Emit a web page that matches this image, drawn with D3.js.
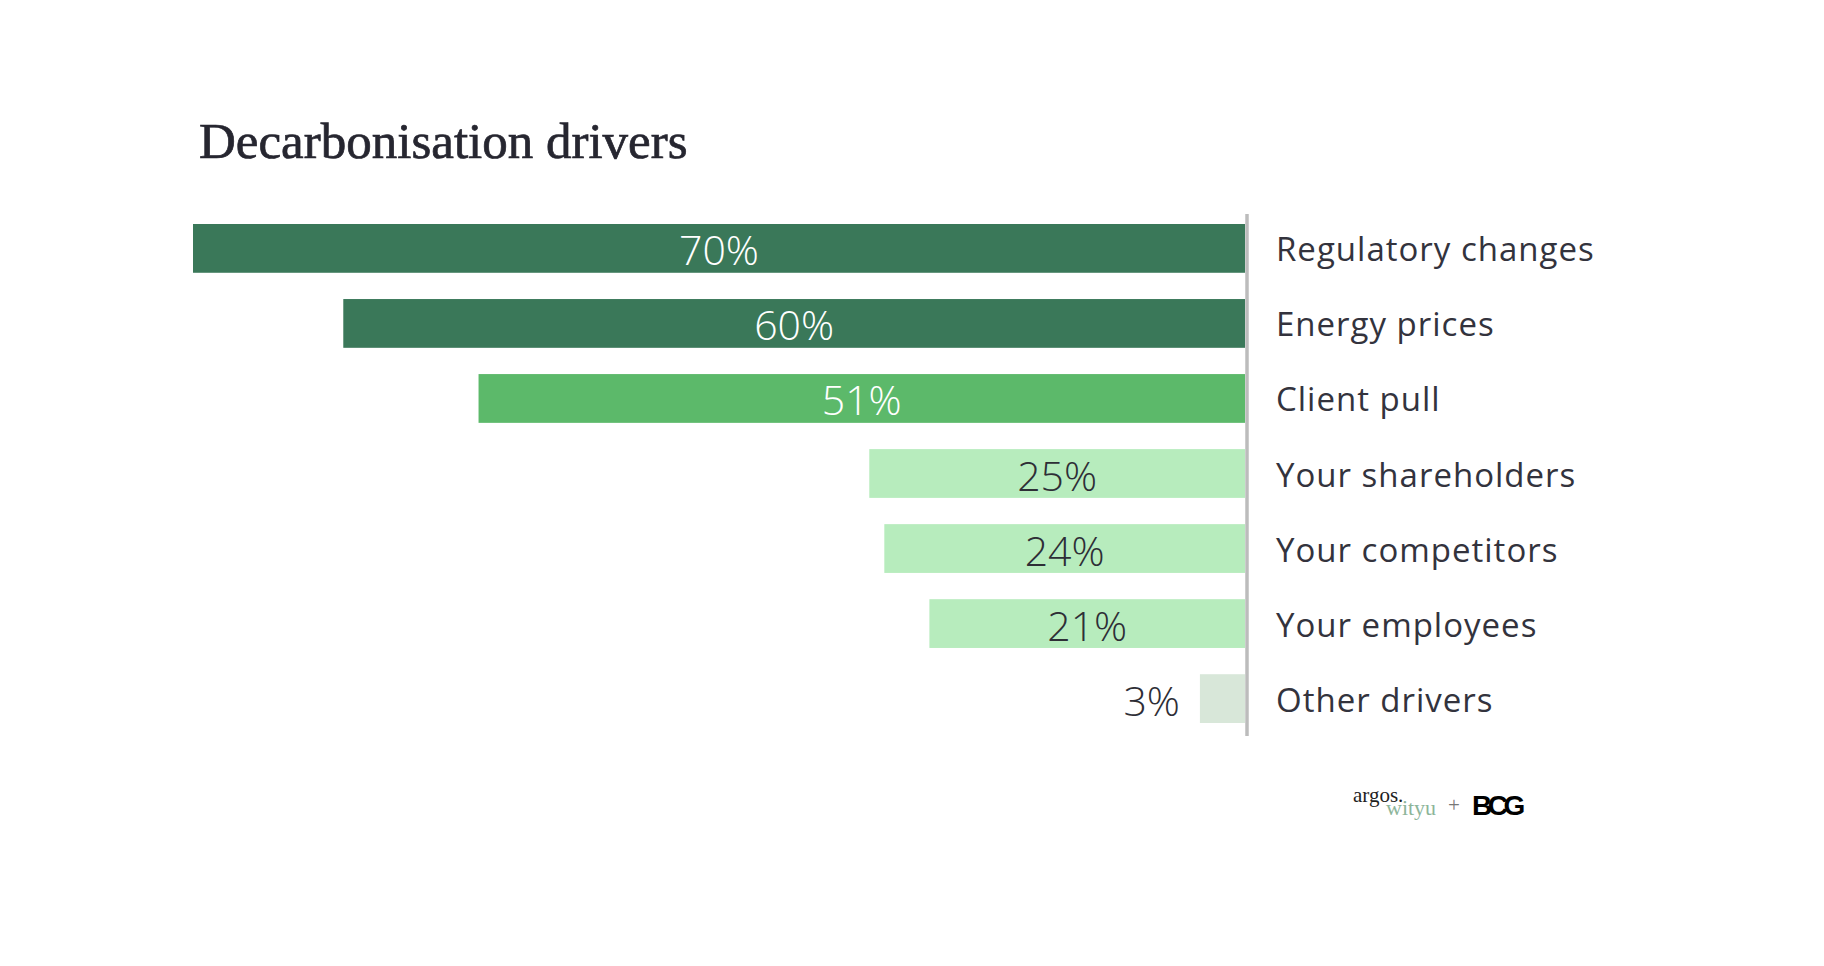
<!DOCTYPE html>
<html><head><meta charset="utf-8">
<script src="https://cdn.jsdelivr.net/npm/d3@7"></script>
<style>html,body{margin:0;padding:0;background:#fff;}</style>
</head><body>
<svg id="chart" width="1824" height="966"></svg>
<script>
const categories = ["Regulatory changes","Energy prices","Client pull","Your shareholders","Your competitors","Your employees","Other drivers"];
const values = [70,60,51,25,24,21,3];
const barColors = ["#3a7859","#3a7859","#5cb96a","#b7ecbd","#b7ecbd","#b7ecbd","#d8e7d9"];
const labelColors = ["#ffffff","#ffffff","#ffffff","#2e2e36","#2e2e36","#2e2e36","#2e2e36"];
const title = "Decarbonisation drivers";

const svg = d3.select("#chart");
const axisX = 1245, leftX = 193;
const x = d3.scaleLinear().domain([0,70]).range([0, axisX-leftX]);
const y = d3.scaleBand().domain(categories).range([224, 723]).paddingInner(0.35).paddingOuter(0);

svg.append("text").attr("x",199).attr("y",158)
  .attr("font-family","Liberation Serif, serif").attr("font-size",51).attr("fill","#262630")
  .attr("stroke","#262630").attr("stroke-width",0.7).text(title);

const g = svg.append("g");
g.selectAll("rect.bar").data(values).join("rect").attr("class","bar")
  .attr("x",d=>axisX - x(d)).attr("y",(d,i)=>y(categories[i]))
  .attr("width",d=>x(d)).attr("height",y.bandwidth())
  .attr("fill",(d,i)=>barColors[i]);

g.selectAll("text.val").data(values).join("text").attr("class","val")
  .attr("x",d=> x(d) > 100 ? axisX - x(d)/2 : axisX - x(d) - 20)
  .attr("text-anchor",d=> x(d) > 100 ? "middle" : "end")
  .attr("y",(d,i)=>y(categories[i]) + y.bandwidth()/2 + 17)
  .attr("font-family","Open Sans, sans-serif").attr("font-size",41).attr("font-weight",300)
  .attr("fill",(d,i)=> x(d) > 100 ? labelColors[i] : "#2e2e36")
  .text(d=>d+"%");

g.selectAll("text.cat").data(categories).join("text").attr("class","cat")
  .attr("x",1276).attr("y",d=>y(d)+y.bandwidth()/2 + 13)
  .attr("font-family","Open Sans, sans-serif").attr("font-size",33).attr("letter-spacing",1).attr("fill","#33333d")
  .text(d=>d);

svg.append("line").attr("x1",axisX+2).attr("x2",axisX+2).attr("y1",214).attr("y2",736)
  .attr("stroke","#bcbcbc").attr("stroke-width",3.5);

// logo
const logo = svg.append("text").attr("font-family","Liberation Serif, serif");
logo.append("tspan").attr("x",1353).attr("y",802).attr("font-size",21).attr("fill","#1e1e1e").text("argos.");
logo.append("tspan").attr("x",1386).attr("y",815).attr("font-size",22).attr("fill","#8db59a").text("wityu");
logo.append("tspan").attr("x",1448).attr("y",812).attr("font-size",21).attr("fill","#777").text("+");
logo.append("tspan").attr("x",1472).attr("y",815).attr("font-family","Liberation Sans, sans-serif")
  .attr("font-weight","bold").attr("font-size",28).attr("letter-spacing",-4.5).attr("fill","#000").text("BCG");
</script>
</body></html>
